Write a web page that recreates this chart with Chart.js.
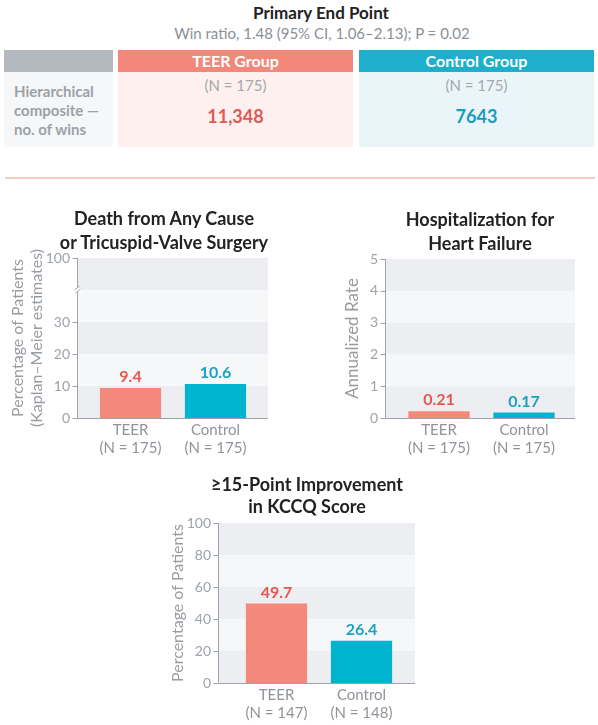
<!DOCTYPE html>
<html>
<head>
<meta charset="utf-8">
<script src="https://cdn.jsdelivr.net/npm/chart.js@4.4.1/dist/chart.umd.min.js"></script>
<style>
body { margin: 0; width: 598px; height: 725px; background: #fff; font-family: Lato, sans-serif; position: relative; overflow: hidden; }
.abs { position: absolute; }
.box { position: absolute; }
.hdr { color: #fff; font-weight: bold; font-size: 16px; text-align: center; line-height: 22px; }
.ttl { position: absolute; text-align: center; font-weight: bold; font-size: 18px; color: #222; z-index: 2; }
.n { color: #a4a8ad; font-size: 15px; text-align: center; position: absolute; width: 100%; top: 4px; }
.big { font-weight: bold; font-size: 18px; text-align: center; position: absolute; width: 100%; top: 33px; }
</style>
</head>
<body>

<div class="ttl" style="left:171px; top:2px; width:300px; line-height:22px; font-size:17px;">Primary End Point</div>
<div class="abs" style="left:122px; top:23px; width:400px; text-align:center; color:#8b9096; font-size:15px; line-height:20px;">Win ratio, 1.48 (95% CI, 1.06–2.13); P = 0.02</div>

<div class="box" style="left:4px; top:50px; width:109px; height:22px; background:#b4b9c0;"></div>
<div class="box" style="left:4px; top:72px; width:109px; height:75px; background:#f6f7f8;">
  <div style="position:absolute; left:10px; top:10px; color:#9ca1a7; font-weight:bold; font-size:15px; line-height:19px;">Hierarchical<br>composite —<br>no. of wins</div>
</div>

<div class="box hdr" style="left:118px; top:50px; width:235px; height:22px; background:#f3887a;">TEER Group</div>
<div class="box" style="left:118px; top:72px; width:235px; height:75px; background:#fdf0ee;">
  <div class="n">(N = 175)</div>
  <div class="big" style="color:#e05a57;">11,348</div>
</div>

<div class="box hdr" style="left:359px; top:50px; width:235px; height:22px; background:#1eafcc;">Control Group</div>
<div class="box" style="left:359px; top:72px; width:235px; height:75px; background:#eaf5fa;">
  <div class="n">(N = 175)</div>
  <div class="big" style="color:#1a9cbc;">7643</div>
</div>

<div class="box" style="left:5px; top:177px; width:590px; height:2px; background:#f3c9c0;"></div>

<div class="abs" style="left:0px; top:195px; width:290px; height:265px;"><canvas id="deathChart"></canvas></div>
<div class="abs" style="left:300px; top:195px; width:298px; height:265px;"><canvas id="hospChart"></canvas></div>
<div class="abs" style="left:150px; top:465px; width:290px; height:260px;"><canvas id="kccqChart"></canvas></div>

<div class="ttl" style="left:34px; top:206px; width:260px; line-height:24px;">Death from Any Cause<br>or Tricuspid-Valve Surgery</div>
<div class="ttl" style="left:350px; top:207px; width:260px; line-height:24px;">Hospitalization for<br>Heart Failure</div>
<div class="ttl" style="left:177px; top:473px; width:260px; line-height:22px;">≥15-Point Improvement<br>in KCCQ Score</div>

<script>
const groups = ['TEER', 'Control'];

const deathN = ['(N = 175)', '(N = 175)'];
const deathValues = [9.4, 10.6];
const deathTicks = [0, 10, 20, 30, 40, 50];
const deathTickLabels = ['0', '10', '20', '30', '', '100'];

const hospN = ['(N = 175)', '(N = 175)'];
const hospValues = [0.21, 0.17];
const hospTicks = [0, 1, 2, 3, 4, 5];

const kccqN = ['(N = 147)', '(N = 148)'];
const kccqValues = [49.7, 26.4];
const kccqTicks = [0, 20, 40, 60, 80, 100];

const barColors = ['#f4887a', '#00b4d0'];
const labelColors = ['#e5574f', '#1ba2c0'];
const axisColor = '#9ea3a9';
const bandColors = ['#eceef1', '#f6f7f9'];

// bands, axis lines, ticks, break mark and the value labels
const decor = {
    id: 'decor',
    beforeDatasetsDraw(chart, args, opts) {
        const ctx = chart.ctx;
        const y = chart.scales.y;
        const a = chart.chartArea;
        const left = a.left - opts.gapLeft;
        const right = a.right + opts.gapRight;
        ctx.save();
        for (let i = 0; i < y.ticks.length - 1; i++) {
            const y0 = y.getPixelForValue(y.ticks[i].value);
            const y1 = y.getPixelForValue(y.ticks[i + 1].value);
            ctx.fillStyle = bandColors[i % 2];
            ctx.fillRect(left, y1, right - left, y0 - y1);
        }
        ctx.restore();
    },
    afterDatasetsDraw(chart, args, opts) {
        const ctx = chart.ctx;
        const y = chart.scales.y;
        const a = chart.chartArea;
        const ax = a.left - opts.gapLeft + 0.5;
        const right = a.right + opts.gapRight;
        ctx.save();
        ctx.strokeStyle = axisColor;
        ctx.lineWidth = 1;
        ctx.beginPath();
        ctx.moveTo(ax, a.top);
        ctx.lineTo(ax, a.bottom);
        ctx.moveTo(ax, a.bottom + 0.5);
        ctx.lineTo(right, a.bottom + 0.5);
        y.ticks.forEach(t => {
            if (opts.breakAt === t.value) return;
            const py = Math.round(y.getPixelForValue(t.value)) + 0.5;
            ctx.moveTo(ax - 5, py);
            ctx.lineTo(ax, py);
        });
        ctx.stroke();
        if (opts.breakAt !== undefined) {
            const py = y.getPixelForValue(opts.breakAt);
            ctx.fillStyle = '#fff';
            ctx.fillRect(ax - 3, py - 2, 6, 4);
            ctx.beginPath();
            ctx.moveTo(ax - 3, py);
            ctx.lineTo(ax + 2, py - 4);
            ctx.moveTo(ax - 2, py + 3);
            ctx.lineTo(ax + 3, py - 1);
            ctx.stroke();
        }
        const meta = chart.getDatasetMeta(0);
        const data = chart.data.datasets[0].data;
        ctx.font = 'bold 16px Lato, sans-serif';
        ctx.textAlign = 'center';
        ctx.textBaseline = 'bottom';
        meta.data.forEach((bar, i) => {
            ctx.fillStyle = labelColors[i];
            ctx.fillText(String(data[i]), bar.x, bar.y - 3);
        });
        ctx.restore();
    }
};

function makeChart(id, values, nLabels, ticks, tickText, cfg) {
    return new Chart(document.getElementById(id), {
        type: 'bar',
        data: {
            labels: groups.map((g, i) => [g, nLabels[i]]),
            datasets: [{
                data: values,
                backgroundColor: barColors,
                barPercentage: 0.72,
                categoryPercentage: 1
            }]
        },
        plugins: [decor],
        options: {
            responsive: true,
            maintainAspectRatio: false,
            animation: false,
            layout: { padding: { left: 0, right: cfg.padRight, top: cfg.padTop, bottom: 0 } },
            plugins: {
                legend: { display: false },
                tooltip: { enabled: false },
                decor: { gapLeft: cfg.gapLeft, gapRight: cfg.gapRight, breakAt: cfg.breakAt }
            },
            scales: {
                x: {
                    grid: { display: false, drawTicks: false },
                    border: { display: false },
                    ticks: { color: '#8f949a', font: { family: 'Lato', size: 15 }, padding: 3 },
                    afterFit(scale) { scale.height = 42; }
                },
                y: {
                    min: ticks[0],
                    max: ticks[ticks.length - 1],
                    grid: { display: false, drawTicks: false },
                    border: { display: false },
                    afterBuildTicks(scale) { scale.ticks = ticks.map(v => ({ value: v })); },
                    ticks: {
                        color: '#9ea3a9',
                        font: { family: 'Lato', size: 14 },
                        padding: cfg.gapLeft + 7,
                        callback: (v) => tickText ? tickText[ticks.indexOf(v)] : String(v)
                    },
                    title: {
                        display: true,
                        text: cfg.yTitle,
                        color: '#979ca2',
                        font: { family: 'Lato', size: cfg.titleSize },
                        padding: { top: cfg.titlePad, bottom: 0 }
                    },
                    afterFit(scale) { scale.width = cfg.yWidth; }
                }
            }
        }
    });
}

makeChart('deathChart', deathValues, deathN, deathTicks, deathTickLabels, {
    padRight: 32, padTop: 63, gapLeft: 11, gapRight: 10, yWidth: 88, titlePad: 8, titleSize: 16,
    breakAt: 40, yTitle: ['Percentage of Patients', '(Kaplan–Meier estimates)']
});

makeChart('hospChart', hospValues, hospN, hospTicks, null, {
    padRight: 31.5, padTop: 64, gapLeft: 11.5, gapRight: 8.5, yWidth: 96.5, titlePad: 42, titleSize: 17,
    yTitle: 'Annualized Rate'
});

makeChart('kccqChart', kccqValues, kccqN, kccqTicks, null, {
    padRight: 36, padTop: 58, gapLeft: 16, gapRight: 11, yWidth: 84, titlePad: 18, titleSize: 16,
    yTitle: 'Percentage of Patients'
});
</script>
</body>
</html>
